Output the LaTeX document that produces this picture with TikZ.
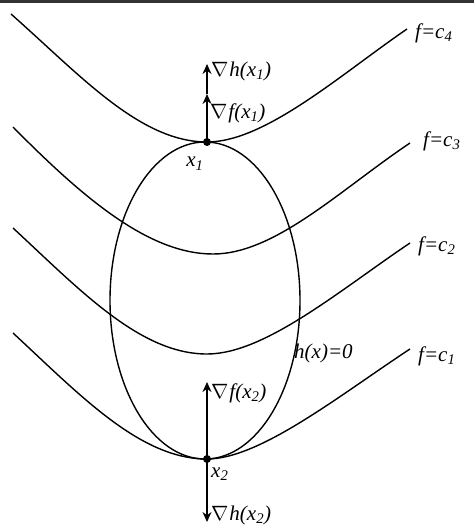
\documentclass[tikz,border=0pt]{standalone}
\usepackage{fontspec}
\setmainfont{Liberation Serif}
\usetikzlibrary{arrows.meta}
\begin{document}
\begin{tikzpicture}[x=1pt,y=-1pt,
  curve/.style={line width=1.4pt},
  lbl/.style={font=\fontsize{21}{23}\selectfont\itshape, inner sep=0pt, anchor=west},
  vec/.style={line width=1.4pt,-{Stealth[length=10pt,width=9pt]}},
  pt/.style={circle, fill=black, minimum size=8pt, inner sep=0pt}]
\useasboundingbox (0,0) rectangle (474,529);
\fill[black!80] (0,0) rectangle (474,3);
% constraint curve h(x)=0
\draw[curve] (205,300.5) ellipse [x radius=95, y radius=158.5];
% level sets
\draw[curve] (11,14) .. controls (80,75) and (140,142) .. (207,142)
  .. controls (265,142) and (340,75) .. (407,29);
\draw[curve] (13,127) .. controls (85,200) and (150,254) .. (213,254)
  .. controls (275,254) and (340,190) .. (410,143);
\draw[curve] (13,228) .. controls (80,290) and (140,354) .. (207,354)
  .. controls (265,354) and (340,290) .. (410,243);
\draw[curve] (13,333) .. controls (80,395) and (140,459) .. (207,459)
  .. controls (260,459) and (340,395) .. (410,349);
% points
\node[pt] (x1) at (207,142) {};
\node[pt] (x2) at (207,459) {};
\coordinate (h1) at (207,64);
\coordinate (f1) at (207,94);
\coordinate (f2) at (207,382);
\coordinate (h2) at (207,522);
\draw[vec] (x1.center) -- (f1);
\draw[vec] (f1) -- (h1);
\draw[vec] (x2.center) -- (f2);
\draw[vec] (x2.center) -- (h2);
% labels
\node[lbl] (lc4) at (415,33) {f=c\textsubscript{4}};
\node[lbl] (lc3) at (423,141) {f=c\textsubscript{3}};
\node[lbl] (lc2) at (418,246) {f=c\textsubscript{2}};
\node[lbl] (lc1) at (418,356) {f=c\textsubscript{1}};
\node[lbl] (lh) at (294,353) {h(x)=0};
\node[lbl] (lh1) at (211,71) {$\nabla$\kern1pt h(x\textsubscript{1})};
\node[lbl] (lf1) at (210,113) {$\nabla$\kern1pt f(x\textsubscript{1})};
\node[lbl,anchor=base] (lx1) at (195,167) {x\textsubscript{1}};
\node[lbl] (lf2) at (211,393) {$\nabla$\kern1pt f(x\textsubscript{2})};
\node[lbl,anchor=base west] (lx2) at (211,477) {x\textsubscript{2}};
\node[lbl] (lh2) at (211,515) {$\nabla$\kern1pt h(x\textsubscript{2})};
\end{tikzpicture}
\end{document}
